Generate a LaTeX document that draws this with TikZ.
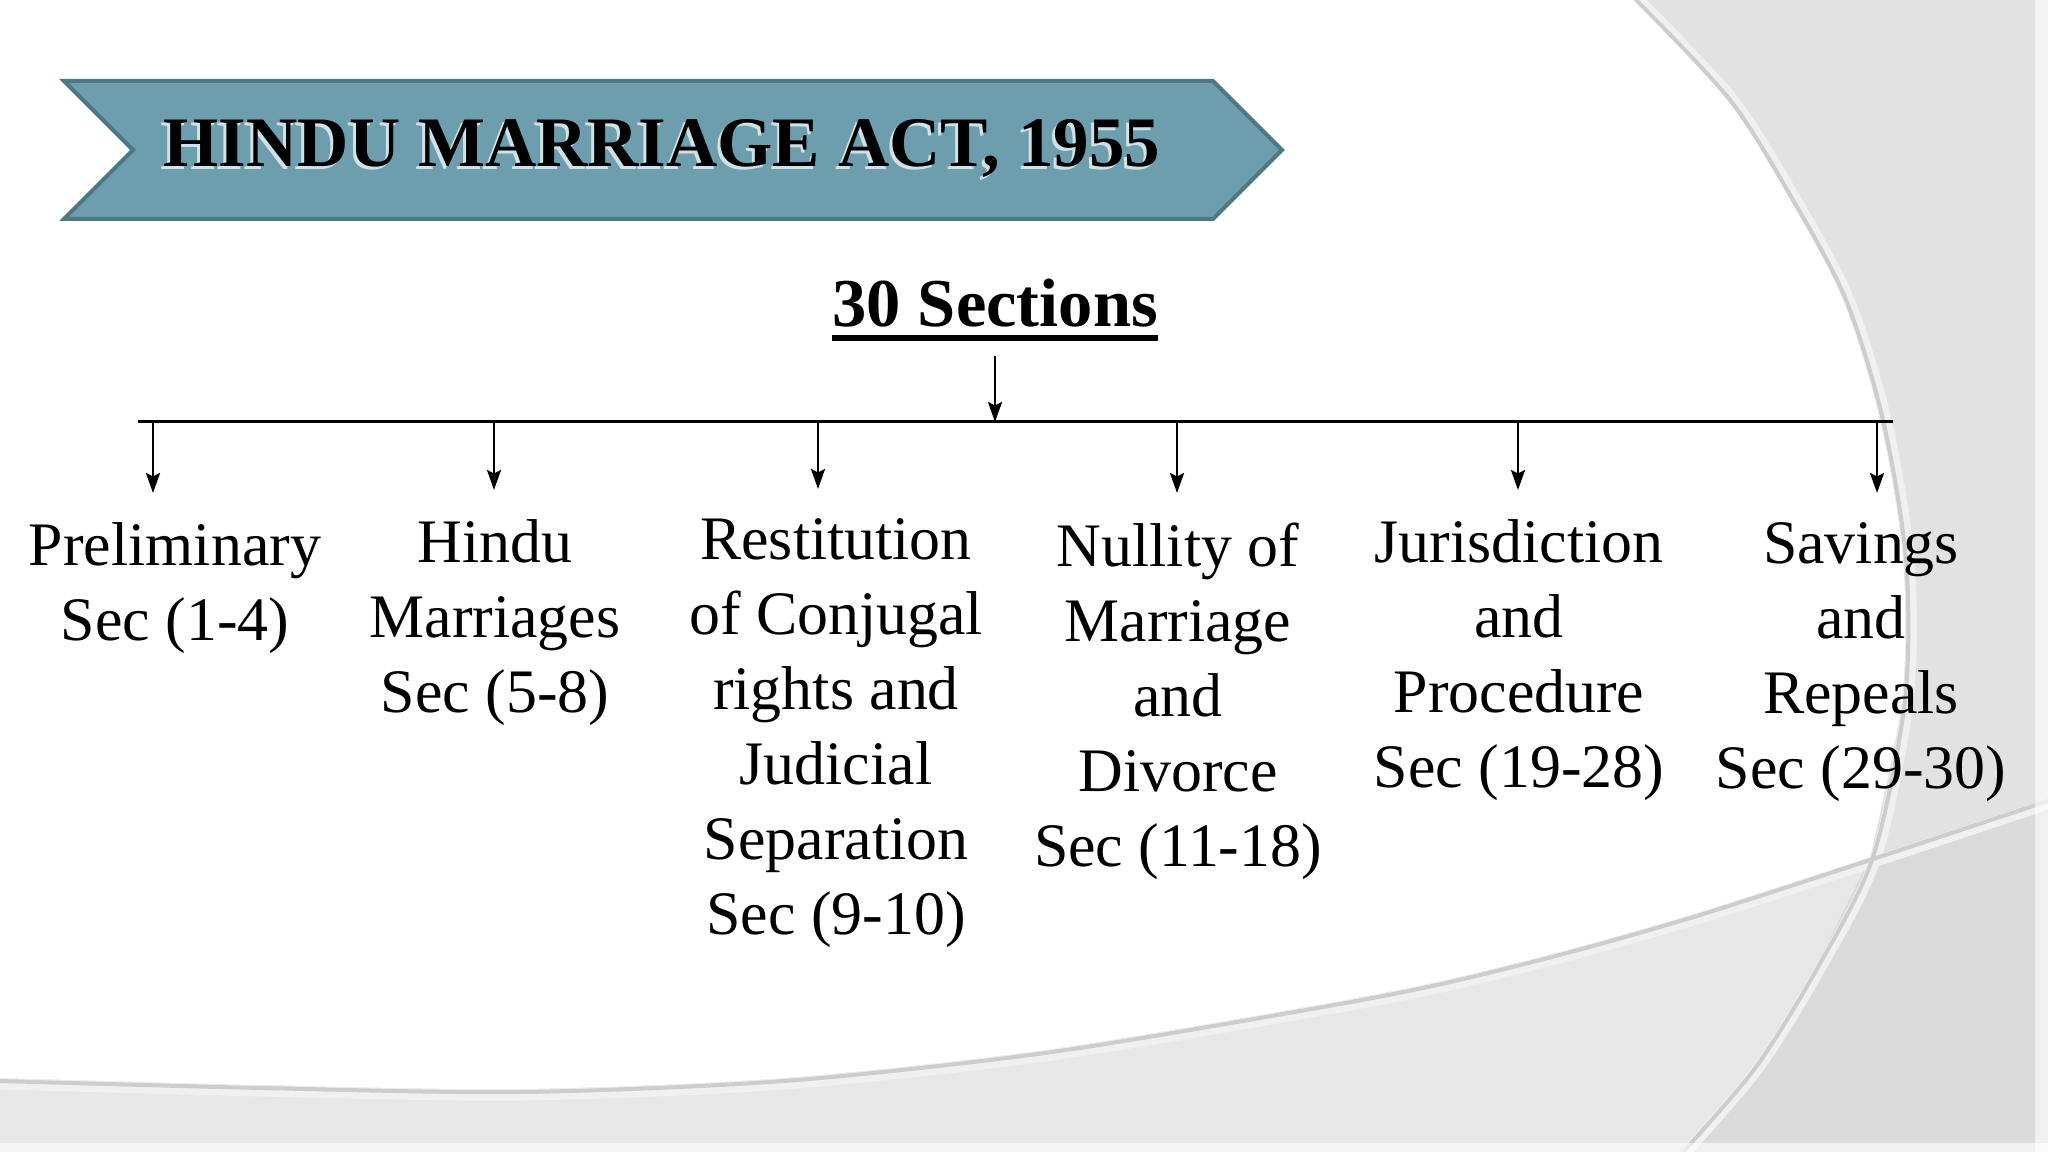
\documentclass[tikz,border=0pt]{standalone}
\usepackage{fontspec}
\setmainfont{Liberation Serif}
\usetikzlibrary{arrows.meta,shapes.symbols}
\definecolor{bannerfill}{HTML}{6D9EAD}
\definecolor{bannerline}{HTML}{4F7886}
\definecolor{bannerglow}{HTML}{CFE2E8}
\definecolor{slidegrey}{HTML}{E2E2E2}
\definecolor{lowgrey}{HTML}{E7E7E7}
\definecolor{darkgrey}{HTML}{DADADA}
\definecolor{edgegrey}{HTML}{CDCDCD}
\newcommand{\headul}[1]{\setbox0\hbox{#1}\rlap{\rule[-4pt]{\wd0}{1.7pt}}\box0}
\tikzset{banner/.style={
  shape=signal,
  signal to=east,
  signal from=west,
  fill=bannerfill,
  draw=bannerline,
  line width=0.4mm,
  minimum width=121.8mm,
  minimum height=13.8mm,
  inner sep=0pt,
  }
}
\tikzset{titletext/.style={
  font=\fontsize{20.2pt}{24pt}\selectfont\bfseries,
  inner sep=0pt,
  }
}
\tikzset{headtext/.style={
  font=\fontsize{19.5pt}{23pt}\selectfont\bfseries,
  anchor=base,
  inner sep=0pt,
  }
}
\tikzset{sectext/.style={
  font=\fontsize{17.6pt}{21.34pt}\selectfont,
  align=center,
  anchor=north,
  inner sep=0pt,
  outer ysep=3mm,
  }
}
\tikzset{branch/.style={
  -{Stealth[length=2mm,width=1.4mm,inset=0.35mm]},
  line width=0.7pt,
  }
}
\tikzset{edge shadow/.style={
  draw=edgegrey,
  line width=0.4mm,
  }
}

\begin{document}
\begin{tikzpicture}[x=0.1mm,y=-0.1mm]
      \useasboundingbox (0,0) rectangle (2048,1152);

      \fill[slidegrey] (0,0) rectangle (2048,1152);
      \fill[lowgrey] (0,1078) -- plot[smooth] coordinates {(0,1078) (261,1085) (522,1089) (784,1078) (1045,1050) (1306,1007) (1437,982) (1567,950) (1700,912) (1870,857)}
        -- plot[smooth] coordinates {(1870,857) (1815,967) (1753,1067) (1680,1152)} -- (0,1152) -- cycle;
      \fill[darkgrey] (1870,857) -- (2048,798) -- (2048,1152)
        -- plot[smooth] coordinates {(1680,1152) (1753,1067) (1815,967) (1870,857)} -- cycle;
      \draw[edge shadow, white!88!gray, line width=1.1mm] plot[smooth] coordinates {(1639,0) (1733,100) (1796,200) (1849,300) (1886,420) (1909,560) (1908,700) (1876,857) (1821,967) (1759,1067) (1686,1152)};
      \draw[edge shadow, white!88!gray, line width=1.1mm] plot[smooth] coordinates {(0,1084) (261,1091) (522,1095) (784,1084) (1045,1056) (1306,1013) (1437,988) (1567,956) (1700,918) (1870,863) (2048,804)};
      \draw[edge shadow] plot[smooth] coordinates {(1636,0) (1730,100) (1793,200) (1846,300) (1883,420) (1906,560) (1905,700) (1873,857) (1818,967) (1756,1067) (1683,1152)};
      \draw[edge shadow] plot[smooth] coordinates {(0,1081) (261,1088) (522,1092) (784,1081) (1045,1053) (1306,1010) (1437,985) (1567,953) (1700,915) (1870,860) (2048,801)};
      \fill[white] (0,0) -- plot[smooth] coordinates {(1633,0) (1727,100) (1790,200) (1843,300) (1880,420) (1903,560) (1902,700) (1870,857)}
        -- plot[smooth] coordinates {(1870,857) (1700,912) (1567,950) (1437,982) (1306,1007) (1045,1050) (784,1078) (522,1089) (261,1085) (0,1078)} -- cycle;
      \fill[white, opacity=0.6] (2035,0) rectangle (2048,1152);
      \fill[white, opacity=0.6] (0,1143) rectangle (2048,1152);

      \node[banner] (ban) at (673,150) {};
      \node[titletext, text=bannerglow] (ttlsh) at (659,152) {HINDU MARRIAGE ACT, 1955};
      \node[titletext] (ttl) at (662,149) {HINDU MARRIAGE ACT, 1955};

      \node[headtext] (sec) at (995,327) {\headul{30 Sections}};

      \coordinate (busL) at (138,422);
      \coordinate (busR) at (1893,422);
      \coordinate (b1) at (153,422);
      \coordinate (b2) at (494,422);
      \coordinate (b3) at (818,422);
      \coordinate (b4) at (1177,422);
      \coordinate (b5) at (1518,422);
      \coordinate (b6) at (1877,422);

      \node[sectext] (n1) at (175,493) {Preliminary\\Sec (1-4)};
      \node[sectext] (n2) at (495,490) {Hindu\\Marriages\\Sec (5-8)};
      \node[sectext] (n3) at (836,489) {Restitution\\of Conjugal\\rights and\\Judicial\\Separation\\Sec (9-10)};
      \node[sectext] (n4) at (1178,493) {Nullity of\\Marriage\\and\\Divorce\\Sec (11-18)};
      \node[sectext] (n5) at (1519,490) {Jurisdiction\\and\\Procedure\\Sec (19-28)};
      \node[sectext] (n6) at (1861,493) {Savings\\and\\Repeals\\Sec (29-30)};

      \draw[line width=0.85pt] (busL) -- (busR);
      \draw[branch, shorten <=1.4mm] (sec.south) -- (sec.south |- busL);
      \draw[branch] (b1) -- (b1 |- n1.north);
      \draw[branch] (b2) -- (b2 |- n2.north);
      \draw[branch] (b3) -- (b3 |- n3.north);
      \draw[branch] (b4) -- (b4 |- n4.north);
      \draw[branch] (b5) -- (b5 |- n5.north);
      \draw[branch] (b6) -- (b6 |- n6.north);
\end{tikzpicture}
\end{document}
